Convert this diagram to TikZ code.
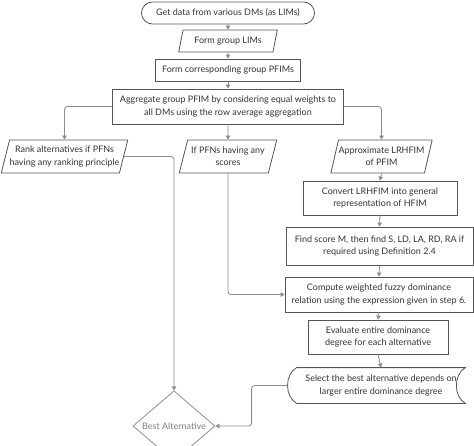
\documentclass[tikz,border=0pt]{standalone}
\usepackage{fontspec}
\setmainfont{Lato}
\usepackage{xcolor}
\usepackage{tikz}
\usetikzlibrary{shapes,arrows.meta,positioning,calc}

\definecolor{boxline}{HTML}{555555}
\definecolor{arrline}{HTML}{8C8C8C}
\definecolor{txt}{HTML}{333333}

\tikzset{
  base/.style={draw=boxline, line width=0.8pt, text=txt, align=center, inner sep=0pt,
    font=\fontsize{9}{12.3}\selectfont},
  startbox/.style={base, rectangle, rounded corners=11pt},
  iobox/.style={base, trapezium, trapezium left angle=68, trapezium right angle=112,
    trapezium stretches=true},
  procbox/.style={base, rectangle},
  decbox/.style={base, diamond, draw=arrline, text=arrline!90!black},
  conn/.style={draw=arrline, line width=0.8pt, rounded corners=3pt,
    -{Triangle[length=4pt,width=4.5pt]}}
}

\begin{document}
\begin{tikzpicture}[x=1pt,y=-1pt]
    \useasboundingbox (0,0) rectangle (474,446);

    % main column
    \node[startbox, minimum width=173pt, minimum height=22pt] (start) at (228,13) {Get data from various DMs (as LIMs)};
    \node[iobox, minimum width=99pt, minimum height=22pt] (lims) at (228,41) {Form group LIMs};
    \node[procbox, minimum width=145pt, minimum height=22pt] (pfims) at (228,70) {Form corresponding group PFIMs};
    \node[procbox, minimum width=231pt, minimum height=35pt] (agg) at (228,106.5) {Aggregate group PFIM by considering equal weights to\\all DMs using the row average aggregation};

    % three branches
    \node[iobox, minimum width=125pt, minimum height=33pt] (rank) at (64.5,156.5) {Rank alternatives if PFNs\\having any ranking principle};
    \node[iobox, minimum width=98pt, minimum height=33pt] (ifpfn) at (228,156.5) {If PFNs having any\\scores};
    \node[iobox, minimum width=97pt, minimum height=33pt] (approx) at (381.5,156.5) {Approximate LRHFIM\\of PFIM};

    % right column
    \node[procbox, minimum width=154pt, minimum height=34pt] (convert) at (380,198) {Convert LRHFIM into general\\representation of HFIM};
    \node[procbox, minimum width=187pt, minimum height=38pt] (find) at (379.5,246) {Find score M, then find S, LD, LA, RD, RA if\\required using Definition 2.4};
    \node[procbox, minimum width=188pt, minimum height=35pt] (compute) at (379,294.5) {Compute weighted fuzzy dominance\\relation using the expression given in step 6.};
    \node[procbox, minimum width=140pt, minimum height=34pt] (eval) at (378,337) {Evaluate entire dominance\\degree for each alternative};
    \node[base, draw=none, minimum width=168pt, minimum height=35pt] (sel) at (381,385.5) {Select the best alternative depends on\\larger entire dominance degree};
    \draw[boxline, line width=0.8pt] (sel.north east) -- (sel.north west) to[bend right=60] (sel.south west)
        -- (sel.south east) to[bend left=60] cycle;
    \coordinate (selout) at ($(sel.west)+(-9,0)$);

    \node[decbox, minimum width=82pt, minimum height=38pt] (best) at (174,426) {Best Alternative};

    % connectors
    \foreach \a/\b in {start/lims, lims/pfims, pfims/agg, agg/ifpfn, approx/convert, convert/find, find/compute, compute/eval, eval/sel}
        \draw[conn] (\a.south) -- (\b.north);
    \draw[conn] (agg.west) -| (rank.north);
    \draw[conn] (agg.east) -| (approx.north);
    \draw[conn] (rank.east) -| (best.north);
    \draw[conn] (ifpfn.south) |- (compute.west);
    \draw[conn] (selout) -- ++(-36,0) |- (best.east);
\end{tikzpicture}
\end{document}
